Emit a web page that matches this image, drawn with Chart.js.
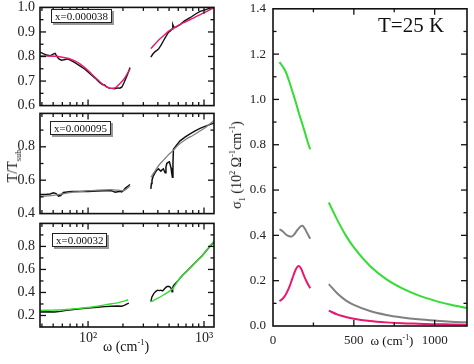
<!DOCTYPE html>
<html>
<head>
<meta charset="utf-8">
<script src="https://cdn.jsdelivr.net/npm/chart.js@4"></script>
<style>
  body { margin: 0; background: #fff; width: 474px; height: 364px; overflow: hidden; position: relative; }
  canvas { position: absolute; }
  .txt { position: absolute; font-family: 'Liberation Serif', 'Times New Roman', serif; color: #111; white-space: nowrap; }
  .tag { position: absolute; background: #fff; border: 1px solid #222; box-shadow: 2px 2px 0 #999;
         font: 11px 'Liberation Serif', serif; line-height: 12px; padding: 0 3px; color: #111; }
  .rot { transform: translate(-50%, -50%) rotate(-90deg); }
  sub, sup { font-size: 60%; line-height: 0; }
</style>
</head>
<body>
<canvas id="p1" width="222" height="125" style="left:0;top:-6px"></canvas>
<canvas id="p2" width="222" height="127" style="left:0;top:100px"></canvas>
<canvas id="p3" width="222" height="147" style="left:0;top:210px"></canvas>
<canvas id="p4" width="241" height="362" style="left:233px;top:-6px"></canvas>

<div class="tag" style="left:51px;top:9px">x=0.000038</div>
<div class="tag" style="left:50px;top:121px">x=0.000095</div>
<div class="tag" style="left:52px;top:233px">x=0.00032</div>
<div class="txt rot" style="left:13px;top:166px;font-size:14px">T/T<sub>sub</sub></div>
<div class="txt" style="left:126px;top:347px;transform:translate(-50%,-50%);font-size:14px">&omega; (cm<sup>-1</sup>)</div>
<div class="txt" style="left:378px;top:15px;font-size:21px;line-height:21px">T=25 K</div>
<div class="txt rot" style="left:237px;top:165px;font-size:14px">&sigma;<sub>1</sub> (10<sup>2</sup> &Omega;<sup>-1</sup>cm<sup>-1</sup>)</div>
<div class="txt" style="left:392px;top:341px;transform:translate(-50%,-50%);font-size:13px">&omega; (cm<sup>-1</sup>)</div>

<script>
// ---- left panels: T/Tsub vs omega (log) ----
const logMajor = [100, 1000];
const logMinor = [40, 50, 60, 70, 80, 90, 200, 300, 400, 500, 600, 700, 800, 900];
const logLabels = { 100: '10²', 1000: '10³' };

// panel 1, x=0.000038
const a1BlkW = [38.5, 41, 44, 47, 50, 52, 54, 56, 59, 62, 66, 71, 77, 85, 94, 104, 115, 125, 133, 139, 145, 152, 160, 170, 180, 188, 196, 205, 215, 223, 230];
const a1BlkT = [0.818, 0.812, 0.806, 0.803, 0.81, 0.813, 0.8, 0.79, 0.785, 0.787, 0.79, 0.784, 0.775, 0.762, 0.748, 0.73, 0.712, 0.695, 0.686, 0.684, 0.676, 0.671, 0.67, 0.668, 0.672, 0.671, 0.676, 0.695, 0.718, 0.737, 0.755];
const a1FitW = [38.5, 45, 52, 60, 68, 76, 84, 92, 100, 110, 122, 134, 146, 158, 170, 182, 195, 207, 218, 230];
const a1FitT = [0.802, 0.802, 0.801, 0.797, 0.792, 0.783, 0.772, 0.758, 0.743, 0.724, 0.704, 0.687, 0.675, 0.67, 0.672, 0.683, 0.697, 0.712, 0.73, 0.749];
const b1BlkW = [348, 362, 379, 395, 405, 425, 447, 470, 493, 515, 530, 538, 548, 565, 590, 622, 680, 758, 840, 925, 1020, 1100, 1202];
const b1BlkT = [0.797, 0.81, 0.82, 0.826, 0.83, 0.845, 0.864, 0.882, 0.898, 0.905, 0.912, 0.93, 0.92, 0.918, 0.924, 0.93, 0.945, 0.958, 0.972, 0.984, 0.99, 0.995, 1.0];
const b1FitW = [348, 380, 420, 460, 500, 560, 620, 700, 780, 860, 940, 1020, 1100, 1220];
const b1FitT = [0.832, 0.852, 0.873, 0.89, 0.905, 0.918, 0.93, 0.942, 0.953, 0.963, 0.972, 0.98, 0.988, 0.998];

// panel 2, x=0.000095
const a2BlkW = [38.5, 43, 47, 50.3, 53, 55.6, 58, 61.3, 66, 72, 85, 100, 120, 140, 155, 165, 171, 180, 188, 195, 203, 210, 220, 230];
const a2BlkT = [0.514, 0.514, 0.518, 0.524, 0.52, 0.505, 0.508, 0.526, 0.53, 0.533, 0.532, 0.533, 0.535, 0.537, 0.538, 0.533, 0.528, 0.531, 0.533, 0.53, 0.54, 0.553, 0.563, 0.574];
const a2FitW = [38.5, 45, 52, 60, 70, 85, 100, 120, 140, 160, 180, 200, 212, 222, 230];
const a2FitT = [0.503, 0.506, 0.51, 0.518, 0.526, 0.532, 0.537, 0.54, 0.542, 0.543, 0.54, 0.537, 0.545, 0.556, 0.568];
const b2BlkW = [348, 352, 356, 365, 379, 392, 405, 415, 425, 435, 447, 455, 462, 470, 478, 490, 503, 512, 520, 527, 534, 540, 545, 580, 622, 690, 758, 840, 925, 1020, 1120, 1242];
const b2BlkT = [0.548, 0.58, 0.6, 0.625, 0.645, 0.66, 0.668, 0.66, 0.654, 0.662, 0.668, 0.655, 0.645, 0.68, 0.7, 0.706, 0.71, 0.69, 0.673, 0.64, 0.617, 0.7, 0.785, 0.81, 0.836, 0.86, 0.878, 0.895, 0.91, 0.922, 0.933, 0.944];
const b2FitW = [348, 370, 392, 420, 450, 490, 545, 600, 700, 800, 925, 1050, 1150, 1242];
const b2FitT = [0.617, 0.645, 0.673, 0.7, 0.722, 0.75, 0.78, 0.81, 0.845, 0.868, 0.895, 0.92, 0.943, 0.962];

// panel 3, x=0.00032
const a3BlkW = [38.5, 45, 51.5, 58, 65, 72, 85, 100, 120, 140, 160, 180, 195, 205, 215, 225];
const a3BlkT = [0.23, 0.232, 0.23, 0.236, 0.244, 0.25, 0.258, 0.264, 0.272, 0.277, 0.28, 0.282, 0.28, 0.288, 0.298, 0.308];
const a3FitW = [38.5, 50, 65, 80, 100, 120, 140, 160, 180, 200, 222];
const a3FitT = [0.244, 0.247, 0.252, 0.26, 0.27, 0.28, 0.292, 0.302, 0.31, 0.322, 0.337];
const b3BlkW = [348, 355, 370, 385, 397, 412, 425, 437, 447, 455, 465, 477, 490, 503, 515, 523, 530, 537, 545, 600, 650, 720, 790, 870, 960, 1050, 1150, 1242];
const b3BlkT = [0.321, 0.36, 0.392, 0.41, 0.42, 0.416, 0.42, 0.414, 0.42, 0.43, 0.44, 0.45, 0.454, 0.45, 0.443, 0.43, 0.406, 0.44, 0.46, 0.505, 0.547, 0.59, 0.632, 0.675, 0.717, 0.765, 0.81, 0.85];
const b3FitW = [348, 400, 450, 500, 545, 600, 650, 720, 790, 870, 960, 1050, 1150, 1242];
const b3FitT = [0.32, 0.35, 0.38, 0.41, 0.44, 0.505, 0.547, 0.59, 0.632, 0.675, 0.717, 0.767, 0.815, 0.858];

// ---- right panel: sigma1 vs omega ----
const greenLowW = [40, 60, 80, 100, 120, 140, 160, 180, 200, 220, 230];
const greenLowS = [1.165, 1.145, 1.12, 1.08, 1.035, 0.99, 0.94, 0.895, 0.848, 0.80, 0.78];
const greenHighW = [345, 400, 450, 500, 600, 700, 800, 900, 1000, 1100, 1200];
const greenHighS = [0.545, 0.465, 0.40, 0.347, 0.265, 0.207, 0.166, 0.135, 0.112, 0.094, 0.079];
const grayLowW = [40, 60, 80, 100, 115, 130, 150, 170, 182, 195, 210, 230];
const grayLowS = [0.427, 0.418, 0.404, 0.396, 0.395, 0.403, 0.423, 0.439, 0.442, 0.432, 0.412, 0.385];
const grayHighW = [345, 400, 450, 500, 600, 700, 800, 900, 1000, 1100, 1200];
const grayHighS = [0.185, 0.142, 0.113, 0.093, 0.066, 0.049, 0.038, 0.030, 0.024, 0.019, 0.016];
const pinkLowW = [40, 60, 80, 100, 120, 140, 158, 175, 190, 210, 230];
const pinkLowS = [0.11, 0.12, 0.14, 0.17, 0.21, 0.248, 0.265, 0.252, 0.225, 0.193, 0.167];
const pinkHighW = [345, 400, 450, 500, 600, 700, 800, 900, 1000, 1100, 1200];
const pinkHighS = [0.068, 0.05, 0.04, 0.032, 0.022, 0.016, 0.012, 0.01, 0.008, 0.007, 0.006];

const BLACK = '#111111';
const PINK = '#e8186e';
const GREEN = '#33dd33';
const GRAY = '#808080';

Chart.defaults.font.family = "'Liberation Serif', 'Times New Roman', serif";
Chart.defaults.color = '#222';

const pts = (xs, ys) => xs.map((x, i) => ({ x, y: ys[i] }));

function line(xs, ys, color, width, smooth) {
    return {
        data: pts(xs, ys),
        borderColor: color,
        borderWidth: width,
        pointRadius: 0,
        fill: false,
        tension: smooth ? 0.4 : 0,
        cubicInterpolationMode: smooth ? 'monotone' : 'default'
    };
}

// frame + inward ticks on all four sides
const frameTicks = {
    id: 'frameTicks',
    afterDatasetsDraw(chart, args, o) {
        const { ctx, chartArea: a, scales: { x, y } } = chart;
        ctx.save();
        ctx.strokeStyle = '#111';
        ctx.lineWidth = 1.3;
        const seg = (x1, y1, x2, y2) => { ctx.beginPath(); ctx.moveTo(x1, y1); ctx.lineTo(x2, y2); ctx.stroke(); };
        const xt = (v, len) => { const p = x.getPixelForValue(v); seg(p, a.bottom, p, a.bottom - len); seg(p, a.top, p, a.top + len); };
        const yt = (v, len) => { const p = y.getPixelForValue(v); seg(a.left, p, a.left + len, p); seg(a.right, p, a.right - len, p); };
        o.xMajor.forEach(v => xt(v, 6));
        o.xMinor.forEach(v => xt(v, 3.5));
        o.yMajor.forEach(v => yt(v, 6));
        o.yMinor.forEach(v => yt(v, 3.5));
        ctx.lineWidth = 1.6;
        ctx.strokeRect(a.left, a.top, a.right - a.left, a.bottom - a.top);
        ctx.restore();
    }
};

function panel(id, cfg) {
    new Chart(document.getElementById(id), {
        type: 'line',
        data: { datasets: cfg.datasets },
        plugins: [frameTicks],
        options: {
            responsive: false,
            animation: false,
            devicePixelRatio: 1,
            layout: { padding: { left: 0, top: 10, right: cfg.padRight, bottom: 0 } },
            plugins: {
                legend: { display: false },
                tooltip: { enabled: false },
                frameTicks: { xMajor: cfg.xMajor, xMinor: cfg.xMinor, yMajor: cfg.yMajor, yMinor: cfg.yMinor }
            },
            scales: {
                x: {
                    type: cfg.xType,
                    min: cfg.xMin,
                    max: cfg.xMax,
                    grid: { display: false, drawTicks: false },
                    border: { display: false },
                    afterBuildTicks: s => { s.ticks = cfg.xLabelVals.map(v => ({ value: v })); },
                    afterFit: s => { s.height = cfg.xh; },
                    ticks: {
                        display: cfg.xh > 12,
                        autoSkip: false,
                        maxRotation: 0,
                        padding: cfg.xPad,
                        font: { size: cfg.fontSize },
                        callback: v => cfg.xFmt(v)
                    }
                },
                y: {
                    min: cfg.yMin,
                    max: cfg.yMax,
                    grid: { display: false, drawTicks: false },
                    border: { display: false },
                    afterBuildTicks: s => { s.ticks = cfg.yLabelVals.map(v => ({ value: v })); },
                    afterFit: s => { s.width = cfg.yw; },
                    ticks: {
                        autoSkip: false,
                        padding: cfg.yPad,
                        font: { size: cfg.fontSize },
                        callback: v => v.toFixed(1)
                    }
                }
            }
        }
    });
}

const logFmt = v => logLabels[v] || '';

const leftCommon = {
    xType: 'logarithmic', xMin: 38.5, xMax: 1220,
    xLabelVals: logMajor, xMajor: logMajor, xMinor: logMinor, xFmt: logFmt,
    yw: 40, padRight: 8, fontSize: 14, yPad: 5, xPad: 3
};

panel('p1', Object.assign({}, leftCommon, {
    xh: 10, yMin: 0.6, yMax: 1.0,
    yLabelVals: [0.6, 0.7, 0.8, 0.9, 1.0],
    yMajor: [0.7, 0.8, 0.9], yMinor: [0.65, 0.75, 0.85, 0.95],
    datasets: [
        line(a1FitW, a1FitT, PINK, 1.4, true),
        line(b1FitW, b1FitT, PINK, 1.4, true),
        line(a1BlkW, a1BlkT, BLACK, 1.4, false),
        line(b1BlkW, b1BlkT, BLACK, 1.4, false)
    ]
}));

panel('p2', Object.assign({}, leftCommon, {
    xh: 10, yMin: 0.4, yMax: 1.0,
    yLabelVals: [0.4, 0.6, 0.8],
    yMajor: [0.6, 0.8], yMinor: [0.5, 0.7, 0.9],
    datasets: [
        line(a2FitW, a2FitT, GRAY, 1.3, true),
        line(b2FitW, b2FitT, GRAY, 1.3, true),
        line(a2BlkW, a2BlkT, BLACK, 1.5, false),
        line(b2BlkW, b2BlkT, BLACK, 1.5, false)
    ]
}));

panel('p3', Object.assign({}, leftCommon, {
    xh: 30, yMin: 0.1, yMax: 1.0,
    yLabelVals: [0.2, 0.4, 0.6, 0.8],
    yMajor: [0.2, 0.4, 0.6, 0.8], yMinor: [0.3, 0.5, 0.7, 0.9],
    datasets: [
        line(a3FitW, a3FitT, GREEN, 1.4, true),
        line(b3FitW, b3FitT, GREEN, 1.4, true),
        line(a3BlkW, a3BlkT, BLACK, 1.4, false),
        line(b3BlkW, b3BlkT, BLACK, 1.4, false)
    ]
}));

panel('p4', {
    xType: 'linear', xMin: 0, xMax: 1200,
    xLabelVals: [0, 500, 1000], xMajor: [500, 1000], xMinor: [250, 750],
    xFmt: v => String(v),
    yw: 40, padRight: 7, fontSize: 13, yPad: 7, xPad: 7, xh: 30,
    yMin: 0, yMax: 1.4,
    yLabelVals: [0, 0.2, 0.4, 0.6, 0.8, 1.0, 1.2, 1.4],
    yMajor: [0.2, 0.4, 0.6, 0.8, 1.0, 1.2], yMinor: [0.1, 0.3, 0.5, 0.7, 0.9, 1.1, 1.3],
    datasets: [
        line(greenLowW, greenLowS, GREEN, 2, true),
        line(greenHighW, greenHighS, GREEN, 2, true),
        line(grayLowW, grayLowS, GRAY, 2, true),
        line(grayHighW, grayHighS, GRAY, 2, true),
        line(pinkLowW, pinkLowS, PINK, 2, true),
        line(pinkHighW, pinkHighS, PINK, 2, true)
    ]
});
</script>
</body>
</html>
